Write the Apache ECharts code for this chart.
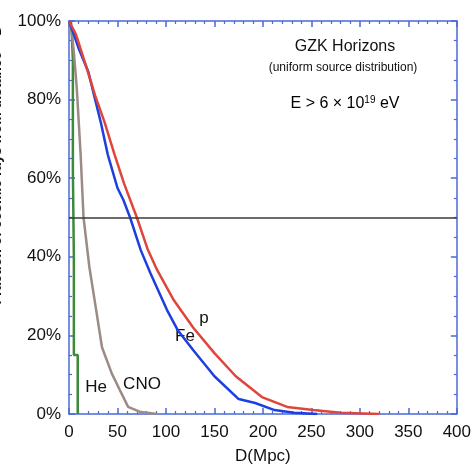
<!DOCTYPE html>
<html>
<head>
<meta charset="utf-8">
<script src="https://cdn.jsdelivr.net/npm/echarts@6/dist/echarts.min.js"></script>
<style>
    html,body{margin:0;padding:0;background:#fff;}
    #chartsbox{width:474px;height:474px;}
</style>
</head>
<body>
<div id="chartsbox"></div>
<script type="text/javascript">
    // distance (Mpc) and fraction (%)
    var pDist   = [0, 7, 17, 27, 37, 47, 57, 70, 81, 91, 108, 128, 150, 172, 199, 225, 252, 280, 320];
    var pFrac   = [100, 96.7, 89, 81, 74, 66, 58.5, 50, 42, 36.6, 29, 22, 15.5, 9.6, 4.3, 1.8, 1, 0.3, 0];
    var feDist  = [0, 3, 10, 20, 27, 33, 40, 50, 56, 63, 74, 84, 101, 112, 128, 150, 175, 192, 212, 232, 256];
    var feFrac  = [100, 98, 93, 87, 80, 74, 66, 57.5, 54.5, 50, 41.7, 35.8, 26.5, 21.4, 16.3, 9.6, 3.8, 2.8, 1, 0.3, 0];
    var cnoDist = [0, 3, 5, 8, 12, 15, 21, 28, 34, 44, 54, 61, 74, 91];
    var cnoFrac = [100, 97, 92, 83, 66, 50, 37.4, 26.5, 17, 10.4, 5.3, 1.8, 0.5, 0];
    var heDist  = [2, 3, 4, 4, 5, 5, 9, 9];
    var heFrac  = [100, 96, 90, 62, 40, 15, 15, 0];
    var halfLine = 50;

    var xTicks = [0, 400, 50];   // min, max, interval
    var yTicks = [0, 100, 20];

    var frame = '#4a6ad8';
    var ink = '#111';
    var font = 'Liberation Sans, Arial, sans-serif';

    function pairs(xs, ys) {
        var out = [];
        for (var i = 0; i < xs.length; i++) { out.push([xs[i], ys[i]]); }
        return out;
    }

    function lineSeries(name, xs, ys, color) {
        return {
            name: name,
            type: 'line',
            data: pairs(xs, ys),
            showSymbol: false,
            symbol: 'none',
            lineStyle: { color: color, width: 2.5 },
            z: 3
        };
    }

    function xAx(pos, show) {
        return {
            type: 'value', position: pos,
            min: xTicks[0], max: xTicks[1], interval: xTicks[2],
            axisLine: { show: true, onZero: false, lineStyle: { color: frame, width: 1.5 } },
            axisTick: { show: true, inside: true, length: 6, lineStyle: { color: frame, width: 1.5 } },
            minorTick: { show: true, splitNumber: 5, length: 3, lineStyle: { color: frame, width: 1.2 } },
            splitLine: { show: false },
            axisLabel: { show: show, color: ink, fontSize: 17, fontFamily: font, margin: 10 },
            name: show ? 'D(Mpc)' : '', nameLocation: 'middle', nameGap: 34,
            nameTextStyle: { color: ink, fontSize: 17, fontFamily: font }
        };
    }

    function yAx(pos, show) {
        return {
            type: 'value', position: pos,
            min: yTicks[0], max: yTicks[1], interval: yTicks[2],
            axisLine: { show: true, onZero: false, lineStyle: { color: frame, width: 1.5 } },
            axisTick: { show: true, inside: true, length: 6, lineStyle: { color: frame, width: 1.5 } },
            minorTick: { show: true, splitNumber: 4, length: 3, lineStyle: { color: frame, width: 1.2 } },
            splitLine: { show: false },
            axisLabel: { show: show, color: ink, fontSize: 17, fontFamily: font, margin: 8, formatter: '{value}%' }
        };
    }

    function label(txt, x, y, size) {
        return { type: 'text', x: x, y: y, style: { text: txt, font: size + 'px ' + font, fill: ink, textAlign: 'center', textVerticalAlign: 'middle' } };
    }

    var myChart = echarts.init(document.getElementById('chartsbox'));
    var pLine = lineSeries('p', pDist, pFrac, '#e0453b');
    // horizontal 50% line
    pLine.markLine = {
        silent: true, symbol: 'none', label: { show: false },
        lineStyle: { color: '#3a3a3a', width: 1.5, type: 'solid' },
        data: [{ yAxis: halfLine }]
    };

    var option = {
        animation: false,
        backgroundColor: '#fff',
        grid: { left: 69, top: 21, right: 7, bottom: 60 },
        xAxis: [xAx('bottom', true), xAx('top', false)],
        yAxis: [yAx('left', true), yAx('right', false)],
        series: [
            lineSeries('He', heDist, heFrac, '#3d8a3d'),
            lineSeries('CNO', cnoDist, cnoFrac, '#9c8a84'),
            lineSeries('Fe', feDist, feFrac, '#1d3fe0'),
            pLine
        ],
        graphic: [
            label('GZK Horizons', 345, 47, 16),
            label('(uniform source distribution)', 343, 68, 12),
            { type: 'text', x: 345, y: 104, style: {
                text: '{a|E > 6 × 10}{s|19}{a| eV}', textAlign: 'center', textVerticalAlign: 'middle',
                rich: {
                    a: { font: '16px ' + font, color: ink },
                    s: { font: '10px ' + font, color: ink, verticalAlign: 'top', padding: [0, 0, 8, 0] }
                }
            } },
            label('p', 204, 318, 17),
            label('Fe', 185, 336, 17),
            label('He', 96, 387, 17),
            label('CNO', 142, 384, 17),
            // y title, half off the left edge like the picture
            { type: 'text', x: -3, y: 165, rotation: Math.PI / 2, style: { text: 'Fraction of cosmic rays from distance > D', font: 'bold 14px ' + font, fill: ink, textAlign: 'center', textVerticalAlign: 'middle' } }
        ]
    };
    myChart.setOption(option);
</script>
</body>
</html>
